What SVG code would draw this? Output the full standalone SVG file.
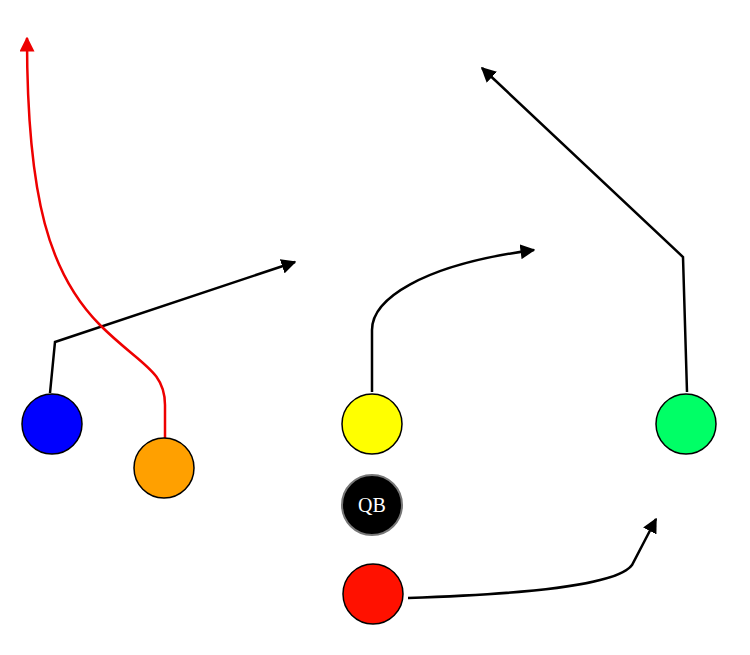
<svg xmlns="http://www.w3.org/2000/svg" width="750" height="655" viewBox="0 0 750 655">
<style>
.r{fill:none;stroke:#000;stroke-width:2.5}
.p{stroke:#000;stroke-width:1.5}
</style>
<defs>
<marker id="a" viewBox="0 0 10 10" refX="9" refY="5" markerWidth="6" markerHeight="6" markerUnits="strokeWidth" orient="auto"><path d="M0,0L10,5L0,10z" fill="#000"/></marker>
<marker id="ar" viewBox="0 0 10 10" refX="9" refY="5" markerWidth="6" markerHeight="6" markerUnits="strokeWidth" orient="auto"><path d="M0,0L10,5L0,10z" fill="#e00"/></marker>
</defs>
<g id="connectors">
<path class="r" d="M50,393 L55,342 L295,262" marker-end="url(#a)"/>
<path class="r" style="stroke:#e00" d="M165,438 L165,405 C165,370 140,365 100,325 C50,275 27,200 27,38" marker-end="url(#ar)"/>
<path class="r" d="M372,392 L372,330 C372,300 420,265 534,250" marker-end="url(#a)"/>
<path class="r" d="M687,392 L683,257 L482,68" marker-end="url(#a)"/>
<path class="r" d="M408,598 C500,595 615,588 632,565 L656,519" marker-end="url(#a)"/>
</g>
<g id="blue"><circle class="p" cx="52" cy="424" r="30" fill="#0000ff"/></g>
<g id="orange"><circle class="p" cx="164" cy="468" r="30" fill="#ffa000"/></g>
<g id="yellow"><circle class="p" cx="372" cy="424" r="30" fill="#ffff00"/></g>
<g id="green"><circle class="p" cx="686" cy="424" r="30" fill="#00ff66"/></g>
<g id="qb"><circle cx="372" cy="505" r="30" fill="#000" stroke="#777" stroke-width="2"/>
<text x="372" y="512" text-anchor="middle" font-family="Liberation Serif, serif" font-size="20" fill="#fff">QB</text></g>
<g id="red"><circle class="p" cx="373" cy="594" r="30" fill="#ff1100"/></g>
</svg>
